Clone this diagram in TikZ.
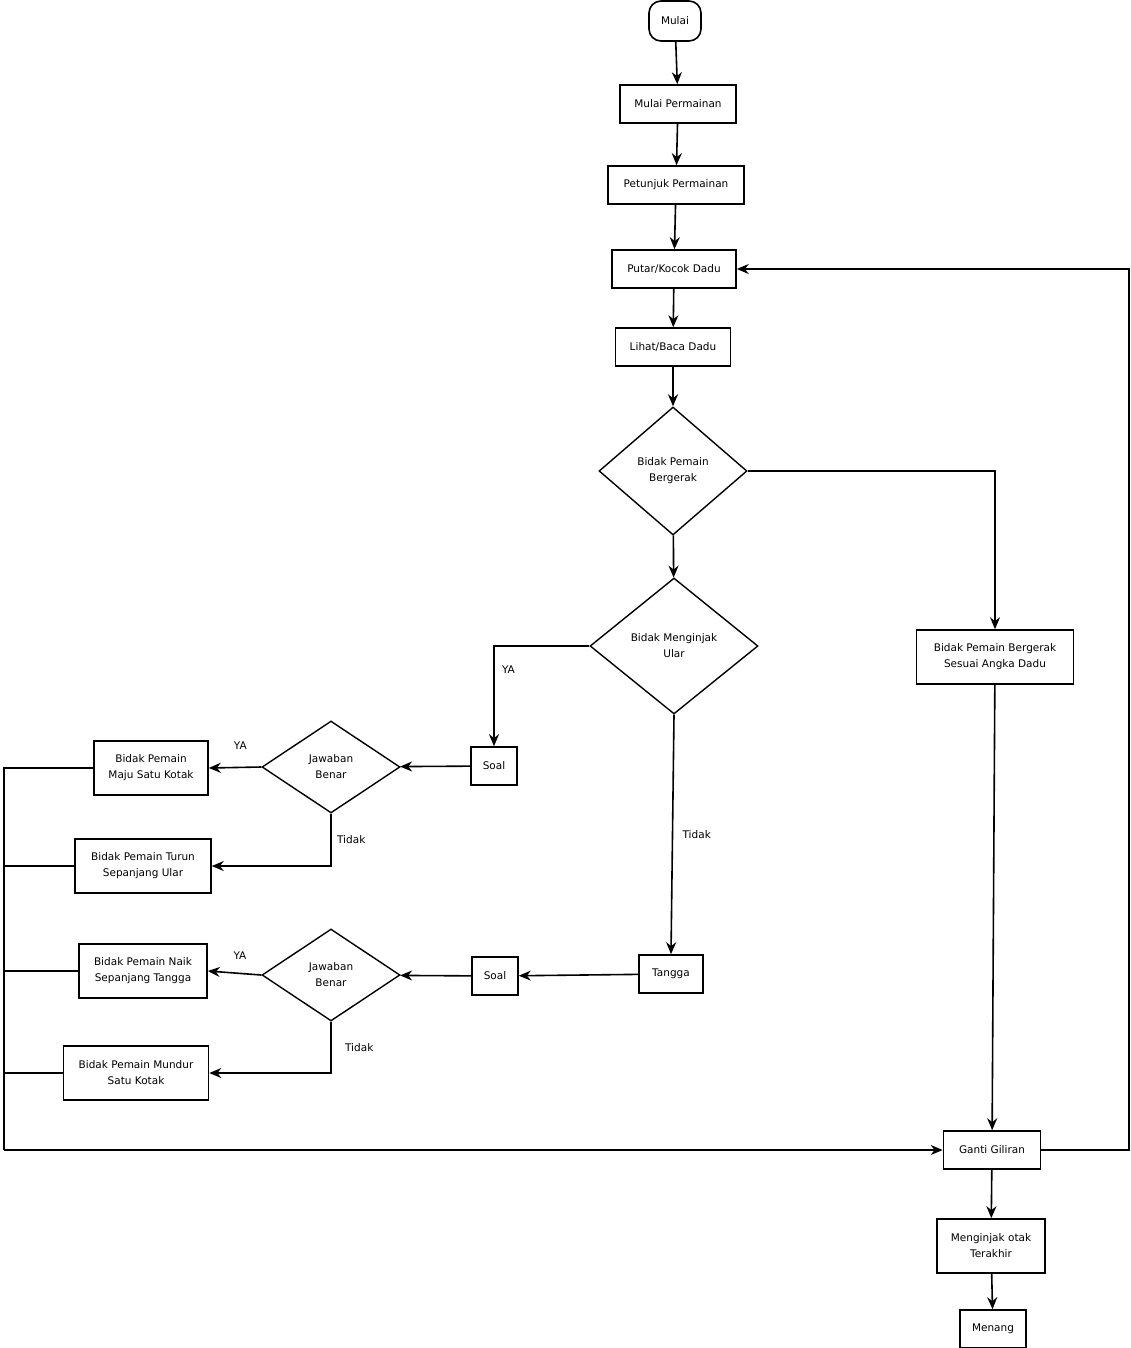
\documentclass[tikz,border=0pt]{standalone}
\usepackage{fontspec}
\setmainfont{DejaVu Sans}
\usetikzlibrary{shapes.geometric,arrows.meta}
\begin{document}
\begin{tikzpicture}[x=1pt,y=-1pt,
    every node/.style={font=\fontsize{10.5}{16}\selectfont},
    box/.style={draw,line width=1.6pt,align=center,inner sep=0pt},
    dec/.style={draw,diamond,aspect=1,line width=1.4pt,align=center,inner sep=0pt},
    arr/.style={line width=1.6pt,-{Stealth[length=12pt,width=10pt]}},
    lin/.style={line width=1.6pt}]
    \useasboundingbox (0,0) rectangle (1130,1348);
    \fill[white] (0,0) rectangle (1130,1348);

    \node[box,rounded corners=12pt,minimum width=52,minimum height=40] (start) at (675,21) {Mulai};
    \node[box,minimum width=116,minimum height=38] (mulai) at (678,104) {Mulai Permainan};
    \node[box,minimum width=136,minimum height=38] (petunjuk) at (676,185) {Petunjuk Permainan};
    \node[box,minimum width=124,minimum height=38] (putar) at (674,269) {Putar/Kocok Dadu};
    \node[box,minimum width=115,minimum height=38] (lihat) at (673,347) {Lihat/Baca Dadu};
    \node[dec,minimum width=148,minimum height=128] (gerak) at (673,471) {Bidak Pemain\\Bergerak};
    \node[dec,minimum width=168,minimum height=136] (ular) at (674,646) {Bidak Menginjak\\Ular};
    \node[box,minimum width=157,minimum height=54] (sesuai) at (995,657) {Bidak Pemain Bergerak\\Sesuai Angka Dadu};
    \node[box,minimum width=46,minimum height=38] (soal1) at (494,766) {Soal};
    \node[dec,minimum width=138,minimum height=92] (jawab1) at (331,767) {Jawaban\\Benar};
    \node[box,minimum width=114,minimum height=54] (maju) at (151,768) {Bidak Pemain\\Maju Satu Kotak};
    \node[box,minimum width=136,minimum height=54] (turun) at (143,866) {Bidak Pemain Turun\\Sepanjang Ular};
    \node[box,minimum width=64,minimum height=38] (tangga) at (671,974) {Tangga};
    \node[box,minimum width=46,minimum height=38] (soal2) at (495,976) {Soal};
    \node[dec,minimum width=138,minimum height=92] (jawab2) at (331,975) {Jawaban\\Benar};
    \node[box,minimum width=128,minimum height=54] (naik) at (143,971) {Bidak Pemain Naik\\Sepanjang Tangga};
    \node[box,minimum width=145,minimum height=54] (mundur) at (136,1073) {Bidak Pemain Mundur\\Satu Kotak};
    \node[box,minimum width=97,minimum height=38] (ganti) at (992,1150) {Ganti Giliran};
    \node[box,minimum width=108,minimum height=54] (injak) at (991,1246) {Menginjak otak\\Terakhir};
    \node[box,minimum width=66,minimum height=38] (menang) at (993,1329) {Menang};

    \coordinate (busTop) at (4,768);
    \coordinate (busBot) at (4,1150);
    \coordinate (loopA) at (1129,1150);
    \coordinate (loopB) at (1129,269);

    \draw[arr] (start) -- (mulai);
    \draw[arr] (mulai) -- (petunjuk);
    \draw[arr] (petunjuk) -- (putar);
    \draw[arr] (putar) -- (lihat);
    \draw[arr] (lihat) -- (gerak);
    \draw[arr] (gerak) -- (ular);
    \draw[arr] (gerak.east) -| (sesuai.north);
    \draw[arr] (ular.west) -| (soal1.north) node[pos=0.62,right=4pt]{YA};
    \draw[arr] (ular.south) -- (tangga.north) node[pos=0.5,right=6pt]{Tidak};
    \draw[arr] (soal1) -- (jawab1);
    \draw[arr] (jawab1.west) -- (maju.east) node[pos=0.4,above=14pt]{YA};
    \draw[arr] (jawab1.south) |- (turun.east) node[pos=0.25,right=2pt]{Tidak};
    \draw[arr] (tangga) -- (soal2);
    \draw[arr] (soal2) -- (jawab2);
    \draw[arr] (jawab2.west) -- (naik.east) node[pos=0.4,above=10pt]{YA};
    \draw[arr] (jawab2.south) |- (mundur.east) node[pos=0.25,right=10pt]{Tidak};
    \draw[lin] (maju.west) -- (busTop) -- (busBot);
    \draw[lin] (turun.west) -- (turun.west -| busTop);
    \draw[lin] (naik.west) -- (naik.west -| busTop);
    \draw[lin] (mundur.west) -- (mundur.west -| busTop);
    \draw[arr] (busBot) -- (ganti.west);
    \draw[arr] (sesuai) -- (ganti);
    \draw[arr] (ganti.east) -- (loopA) -- (loopB) -- (putar.east);
    \draw[arr] (ganti) -- (injak);
    \draw[arr] (injak) -- (menang);
\end{tikzpicture}
\end{document}
